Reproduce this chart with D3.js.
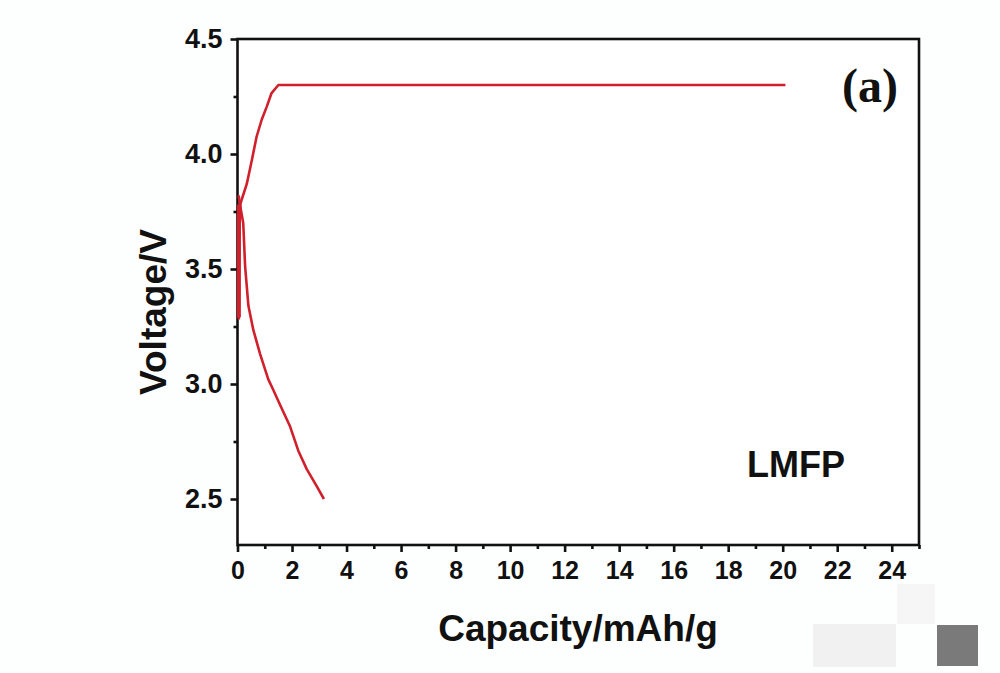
<!DOCTYPE html>
<html><head><meta charset="utf-8">
<script src="https://cdn.jsdelivr.net/npm/d3@7"></script>
<style>html,body{margin:0;padding:0;background:#fdfefe;}svg{display:block;}</style>
</head><body>
<svg id="c" width="1000" height="673"></svg>
<script>
const chargeCapacity = [0.05,0.06,0.08,0.10,0.15,0.34,0.52,0.70,0.89,1.07,1.25,1.50,20.1];
const chargeVoltage  = [3.28,3.50,3.70,3.78,3.80,3.87,3.97,4.075,4.15,4.205,4.265,4.30,4.30];
const dischargeCapacity = [0.04,0.12,0.21,0.28,0.40,0.58,0.83,1.13,1.31,1.56,1.93,2.23,2.54,2.91,3.17];
const dischargeVoltage  = [3.82,3.76,3.70,3.51,3.34,3.235,3.13,3.02,2.975,2.91,2.815,2.71,2.63,2.555,2.50];
const xTicks = [0,2,4,6,8,10,12,14,16,18,20,22,24];
const yTicks = [2.5,3.0,3.5,4.0,4.5];
const xLabel = "Capacity/mAh/g", yLabel = "Voltage/V", panelLabel = "(a)", sampleLabel = "LMFP";

const svg = d3.select("#c");
const L=237.5, R=919, T=39, B=545;
const x = d3.scaleLinear().domain([0,25]).range([L,R]);
const y = d3.scaleLinear().domain([2.3,4.5]).range([B,T]);

// decoration rects bottom-right
svg.append("rect").attr("x",813).attr("y",624).attr("width",83).attr("height",43).attr("fill","#f1f1f1");
svg.append("rect").attr("x",897).attr("y",584).attr("width",38).attr("height",40).attr("fill","#f6f6f6");
svg.append("rect").attr("x",937).attr("y",625).attr("width",41).attr("height",41).attr("fill","#7a7a7a");

const font = "'Liberation Sans', Arial, sans-serif";

// frame
svg.append("rect").attr("x",L).attr("y",T).attr("width",R-L).attr("height",B-T)
  .attr("fill","#ffffff").attr("stroke","#111").attr("stroke-width",2.6);

// x axis
const xa = svg.append("g").attr("transform",`translate(0,${B})`)
  .call(d3.axisBottom(x).tickValues(xTicks).tickSize(7).tickPadding(9).tickFormat(d3.format("d")));
xa.select(".domain").remove();
xa.selectAll("line").attr("stroke","#111").attr("stroke-width",2.6);
xa.selectAll("text").attr("font-family",font).attr("font-weight","bold").attr("font-size",25).attr("fill","#111");
const xm = svg.append("g").attr("transform",`translate(0,${B})`)
  .call(d3.axisBottom(x).tickValues(d3.range(1,26,2)).tickSize(4).tickFormat(""));
xm.select(".domain").remove();
xm.selectAll("line").attr("stroke","#111").attr("stroke-width",2.6);

// y axis
const ya = svg.append("g").attr("transform",`translate(${L},0)`)
  .call(d3.axisLeft(y).tickValues(yTicks).tickSize(7).tickPadding(8).tickFormat(d3.format(".1f")));
ya.select(".domain").remove();
ya.selectAll("line").attr("stroke","#111").attr("stroke-width",2.6);
ya.selectAll("text").attr("font-family",font).attr("font-weight","bold").attr("font-size",27).attr("fill","#111");
const ym = svg.append("g").attr("transform",`translate(${L},0)`)
  .call(d3.axisLeft(y).tickValues([2.75,3.25,3.75,4.25]).tickSize(4).tickFormat(""));
ym.select(".domain").remove();
ym.selectAll("line").attr("stroke","#111").attr("stroke-width",2.6);

// curves
const line = d3.line().x(d=>x(d[0])).y(d=>y(d[1])).curve(d3.curveMonotoneY);
const lineL = d3.line().x(d=>x(d[0])).y(d=>y(d[1]));
const charge = chargeCapacity.map((c,i)=>[c,chargeVoltage[i]]);
const discharge = dischargeCapacity.map((c,i)=>[c,dischargeVoltage[i]]);
svg.append("path").datum(charge).attr("d",lineL).attr("fill","none")
  .attr("stroke","#d0202c").attr("stroke-width",2.6).attr("stroke-linejoin","round");
svg.append("path").datum(discharge).attr("d",lineL).attr("fill","none")
  .attr("stroke","#d0202c").attr("stroke-width",2.6).attr("stroke-linejoin","round");
// dense overlap near axis
svg.append("path").datum([[0.05,3.29],[0.05,3.78]]).attr("d",lineL)
  .attr("stroke","#d0202c").attr("stroke-width",4);

// labels
svg.append("text").attr("x",578).attr("y",641).attr("text-anchor","middle")
  .attr("font-family",font).attr("font-weight","bold").attr("font-size",37).attr("fill","#111").text(xLabel);
svg.append("text").attr("transform","translate(166,312) rotate(-90)").attr("text-anchor","middle")
  .attr("font-family",font).attr("font-weight","bold").attr("font-size",37).attr("fill","#111").text(yLabel);
svg.append("text").attr("x",870).attr("y",102).attr("text-anchor","middle")
  .attr("font-family","'Liberation Serif', 'Times New Roman', serif").attr("font-weight","bold").attr("font-size",48).attr("fill","#111").text(panelLabel);
svg.append("text").attr("x",796).attr("y",477).attr("text-anchor","middle")
  .attr("font-family",font).attr("font-weight","bold").attr("font-size",36).attr("fill","#111").text(sampleLabel);
</script>
</body></html>
